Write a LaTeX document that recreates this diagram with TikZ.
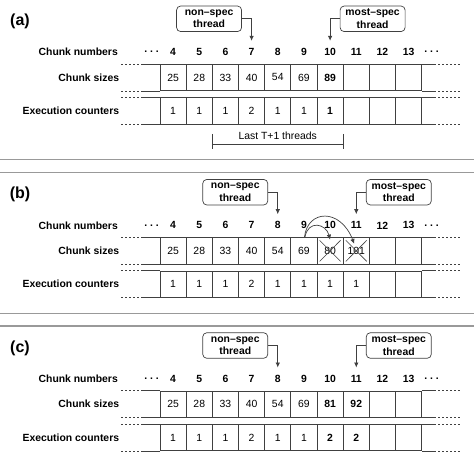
\documentclass[tikz,border=0pt]{standalone}
\usepackage{fontspec}
\setmainfont{Liberation Sans}
\usetikzlibrary{arrows.meta,positioning,calc}

% one panel: #1 prefix, #2 tag, #3 column/size/counter
\newcommand{\chunkpanel}[3]{%
  \node[tag] (#1-tag) at (20,-43) {(#2)};
  \node[rowlbl] (#1-numlbl) at (118,-12.3) {Chunk numbers};
  \node[rowlbl] (#1-szlbl) at (119.3,13.15) {Chunk sizes};
  \node[rowlbl] (#1-exlbl) at (119.3,46.55) {Execution counters};
  \foreach \k/\s/\c in {#3} {
    \node[cell] (#1-sz\k) at ({173.08+(\k-4)*26.17},13.15) {\s};
    \node[cell] (#1-ex\k) at ({173.08+(\k-4)*26.17},46.55) {\c};
    \node[num] (#1-num\k) at ({173.08+(\k-4)*26.17},-12.3) {\k};
  }
  \node[num] (#1-ldots) at (151.5,-12.3) {.\ .\ .};
  \node[num] (#1-rdots) at (431.5,-12.3) {.\ .\ .};
  \foreach \r/\aw/\ae in {sz/north west/north east,sz/south west/south east,
                          ex/north west/north east,ex/south west/south east} {
    \draw[ext] (#1-\r4.\aw) -- ++(-17,0) edge[extdash] ++(-22,0);
    \draw[ext] (#1-\r13.\ae) -- ++(12.3,0) edge[extdash] ++(26,0);
  }
}

\begin{document}
\begin{tikzpicture}[x=1pt,y=-1pt,
  font=\fontsize{10.4}{12}\selectfont,>={Latex[length=5pt,width=4.5pt]},
  cell/.style={draw=black!75,line width=0.7pt,minimum width=26.17pt,minimum height=26.3pt,inner sep=0pt},
  num/.style={font=\fontsize{10.4}{12}\selectfont\bfseries,minimum height=22pt,inner sep=0pt},
  rowlbl/.style={anchor=east,inner sep=0pt,font=\fontsize{10.4}{12}\selectfont\bfseries},
  thread/.style={draw=black!75,line width=0.7pt,rounded corners=4pt,align=center,
    font=\fontsize{10.4}{12.4}\selectfont\bfseries,minimum width=65pt,minimum height=25.5pt,inner sep=1pt},
  tag/.style={font=\fontsize{16}{18}\selectfont\bfseries},
  sep/.style={draw=black!40,line width=1.5pt},
  ext/.style={draw=black!75,line width=0.7pt},
  extdash/.style={ext,dash pattern=on 2pt off 2pt},
  cross/.style={draw=black!75,line width=0.6pt}]
\useasboundingbox (0,0) rectangle (474,467);
\draw[sep] (0,159.3) -- (474,159.3);
\draw[sep] (0,172.7) -- (474,172.7);
\draw[sep] (0,313.3) -- (474,313.3);
\draw[sep] (0,326) -- (474,326);

% (a)
\begin{scope}[shift={(0,64.3)}]
\chunkpanel{a}{a}{4/25/1,5/28/1,6/33/1,7/40/2,8/54/1,9/69/1,10/\textbf{89}/\textbf{1},11/{}/{},12/{}/{},13/{}/{}}
\node[thread] (a-ns) at ($(a-num7)+(-42.5,-33.2)$) {non--spec\\thread};
\node[thread] (a-ms) at ($(a-num10)+(42.5,-33.2)$) {most--spec\\thread};
\draw[->,ext] (a-ns.east) -| (a-num7.north);
\draw[->,ext] (a-ms.west) -| (a-num10.north);
\coordinate (a-brL) at ($(a-ex6.south west)+(0,20)$);
\coordinate (a-brR) at ($(a-ex10.south east)+(0,20)$);
\draw[ext] (a-brL) -- node[above,inner sep=4pt] (a-last) {Last T+1 threads} (a-brR);
\draw[ext] ($(a-brL)+(0,-10.5)$) -- ($(a-brL)+(0,5)$);
\draw[ext] ($(a-brR)+(0,-10.5)$) -- ($(a-brR)+(0,5)$);
\end{scope}

% (b)
\begin{scope}[shift={(0,237.7)}]
\chunkpanel{b}{b}{4/25/1,5/28/1,6/33/1,7/40/2,8/54/1,9/69/1,10/80/1,11/101/1,12/{}/{},13/{}/{}}
\node[thread] (b-ns) at ($(b-num8)+(-42.5,-33.2)$) {non--spec\\thread};
\node[thread] (b-ms) at ($(b-num11)+(42.5,-33.2)$) {most--spec\\thread};
\draw[->,ext] (b-ns.east) -| (b-num8.north);
\draw[->,ext] (b-ms.west) -| (b-num11.north);
\draw[cross] ($(b-sz10.north west)+(3,3)$) -- ($(b-sz10.south east)+(-3,-3)$);
\draw[cross] ($(b-sz10.north east)+(-3,3)$) -- ($(b-sz10.south west)+(3,-3)$);
\draw[cross] ($(b-sz11.north west)+(3,3)$) -- ($(b-sz11.south east)+(-3,-3)$);
\draw[cross] ($(b-sz11.north east)+(-3,3)$) -- ($(b-sz11.south west)+(3,-3)$);
\draw[->,ext] ($(b-sz9.north)+(1,0)$) .. controls +(3,-18) and +(-4,-16) .. ($(b-sz10.north)+(0,2.3)$);
\draw[->,ext] ($(b-sz9.north)+(0.5,0)$) .. controls +(3,-28) and +(-14,-36) .. ($(b-sz11.north)+(-2,6.5)$);
\end{scope}

% (c)
\begin{scope}[shift={(0,391)}]
\chunkpanel{c}{c}{4/25/1,5/28/1,6/33/1,7/40/2,8/54/1,9/69/1,10/\textbf{81}/\textbf{2},11/\textbf{92}/\textbf{2},12/{}/{},13/{}/{}}
\node[thread] (c-ns) at ($(c-num8)+(-42.5,-33.2)$) {non--spec\\thread};
\node[thread] (c-ms) at ($(c-num11)+(42.5,-33.2)$) {most--spec\\thread};
\draw[->,ext] (c-ns.east) -| (c-num8.north);
\draw[->,ext] (c-ms.west) -| (c-num11.north);
\end{scope}
\end{tikzpicture}
\end{document}
